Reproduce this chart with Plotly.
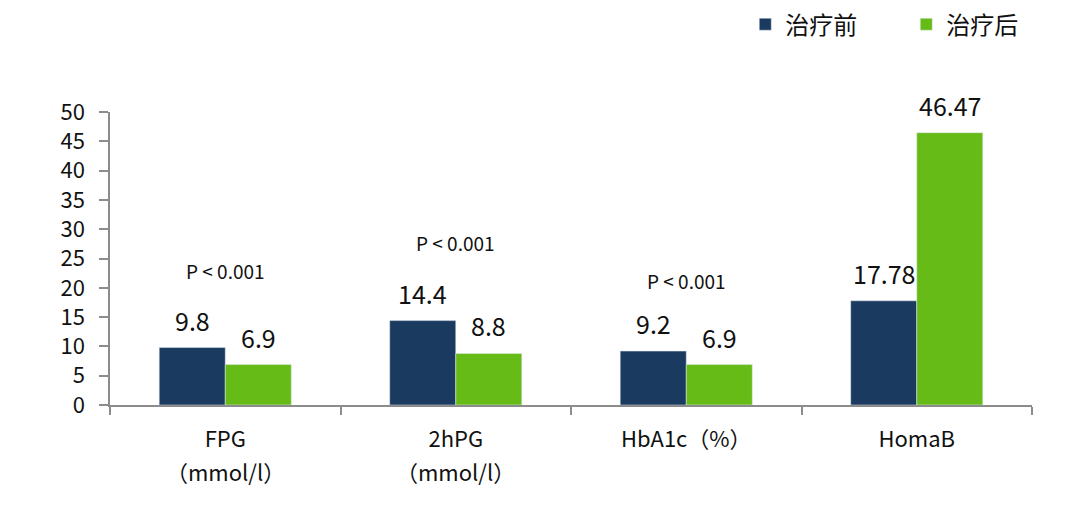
import plotly.graph_objects as go

categories = ["FPG", "2hPG", "HbA1c（%）", "HomaB"]
units = ["（mmol/l）", "（mmol/l）", "", ""]
before = [9.8, 14.4, 9.2, 17.78]
after = [6.9, 8.8, 6.9, 46.47]
before_labels = ["9.8", "14.4", "9.2", "17.78"]
after_labels = ["6.9", "8.8", "6.9", "46.47"]
p_texts = ["P < 0.001", "P < 0.001", "P < 0.001", "P < 0.001"]
p_y = [23.0, 27.8, 21.3, 58.0]
y_ticks = list(range(0, 51, 5))

NAVY = "#1a3a5f"
GREEN = "#66bb17"
FONT = "Noto Sans CJK SC"

L, R, T, B = 110, 48, 112, 104
W, H = 1080, 509
plot_w = W - L - R
BARGAP = 0.427
bar_px = plot_w / len(categories) * (1 - BARGAP) / 2

fig = go.Figure()
fig.add_trace(go.Bar(x=categories, y=before, name="治疗前", marker_color=NAVY))
fig.add_trace(go.Bar(x=categories, y=after, name="治疗后", marker_color=GREEN))

for c, v, t in zip(categories, before, before_labels):
    fig.add_annotation(x=c, y=v, xref="x", yref="y", text=t, showarrow=False,
                       xshift=-bar_px / 2, yanchor="bottom", yshift=8,
                       font=dict(size=25, color="#111", family=FONT))
for c, v, t in zip(categories, after, after_labels):
    fig.add_annotation(x=c, y=v, xref="x", yref="y", text=t, showarrow=False,
                       xshift=bar_px / 2, yanchor="bottom", yshift=8,
                       font=dict(size=25, color="#111", family=FONT))

for c, t, yy in zip(categories, p_texts, p_y):
    fig.add_annotation(x=c, y=yy, xref="x", yref="y", text=t, showarrow=False,
                       font=dict(size=19, color="#111", family=FONT))

for c, u in zip(categories, units):
    if u:
        fig.add_annotation(x=c, y=0, xref="x", yref="paper", text=u, showarrow=False,
                           yanchor="middle", yshift=-66,
                           font=dict(size=22, color="#111", family=FONT))

fig.update_layout(
    width=W, height=H,
    margin=dict(l=L, r=R, t=T, b=B, autoexpand=False),
    paper_bgcolor="white", plot_bgcolor="white",
    barmode="group", bargap=BARGAP, bargroupgap=0,
    font=dict(family=FONT, color="#111"),
    legend=dict(orientation="h", x=0.689, xanchor="left", y=1.375, yanchor="top",
                font=dict(size=24, family=FONT, color="#111"),
                itemwidth=30, entrywidth=116, entrywidthmode="pixels",
                bgcolor="rgba(0,0,0,0)"),
    showlegend=True,
)
fig.update_xaxes(
    showline=True, linecolor="#8c8c8c", linewidth=1.5,
    ticks="outside", tickson="boundaries", ticklen=8, tickcolor="#8c8c8c", tickwidth=1.5,
    ticklabelstandoff=14,
    tickfont=dict(size=22, family=FONT, color="#111"), showgrid=False,
)
fig.update_yaxes(
    range=[0, 50], tickvals=y_ticks, showline=True, linecolor="#8c8c8c", linewidth=1.5,
    ticks="outside", ticklen=9, tickcolor="#8c8c8c", tickwidth=1.5,
    ticklabelstandoff=10,
    tickfont=dict(size=22, family=FONT, color="#111"), showgrid=False, zeroline=False,
)

fig.write_html("out.html")
